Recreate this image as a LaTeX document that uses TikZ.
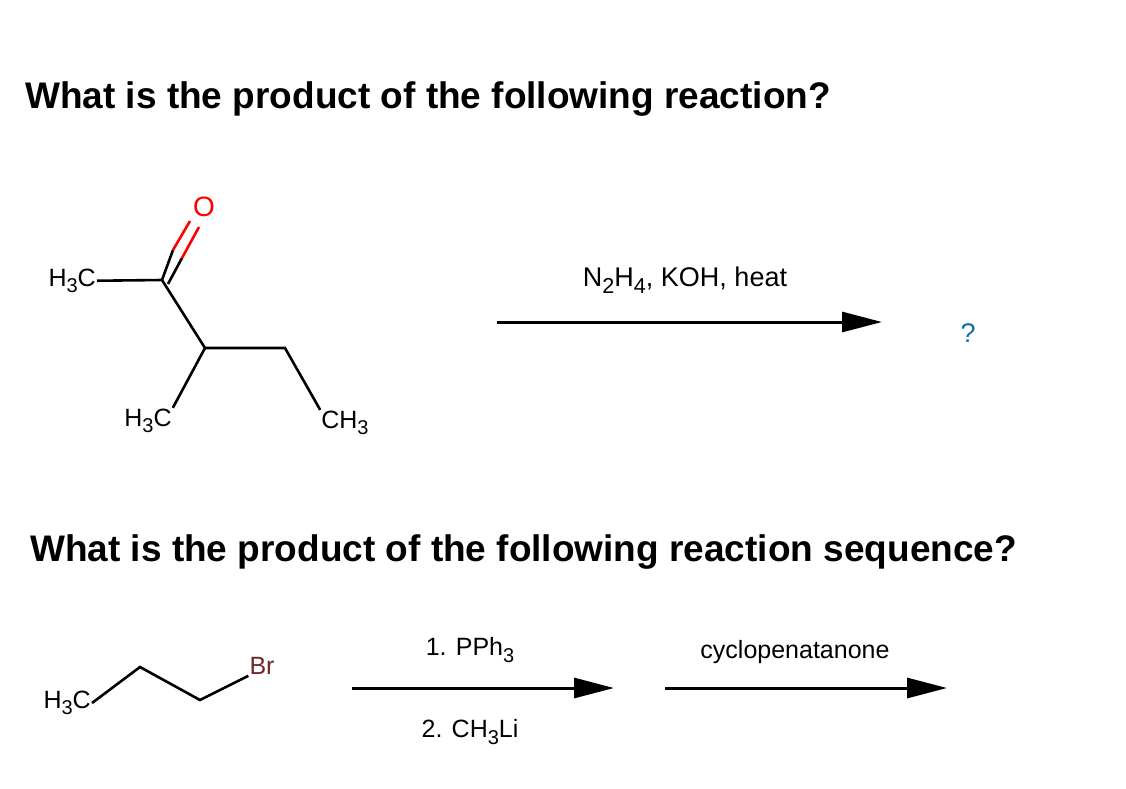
\documentclass[tikz,border=0pt]{standalone}
\usepackage{fontspec}
\setmainfont{Liberation Sans}
\usetikzlibrary{arrows.meta}
\newcommand{\chsub}[1]{\raisebox{-0.25em}{\scalebox{0.8}{#1}}}
\begin{document}
\begin{tikzpicture}[x=1pt,y=-1pt,
  bond/.style={line width=2.6pt},
  lbl/.style={inner sep=1pt,font=\fontsize{25}{28}\selectfont},
  rlbl/.style={inner sep=1pt,font=\fontsize{27}{30}\selectfont},
  title/.style={anchor=base west,inner sep=0pt,font=\fontsize{37}{40}\selectfont\bfseries},
  rx/.style={line width=3pt,-{Triangle[length=40pt,width=20pt]}}]
\useasboundingbox (0,0) rectangle (1126,788);
\definecolor{obr}{RGB}{110,40,40}
\definecolor{qb}{RGB}{20,110,170}
\node[title] (t1) at (25,108) {What is the product of the following reaction?};
\node[title] (t2) at (30,561) {What is the product of the following reaction sequence?};
% molecule 1
\node[lbl,anchor=east] (m1) at (97,281) {H\chsub{3}C};
\coordinate (c1) at (162,280);
\node[lbl,text=red,font=\fontsize{28}{30}\selectfont] (o) at (204,207) {O};
\coordinate (c2) at (205,348);
\coordinate (c3) at (285,348);
\node[lbl] (m2) at (148,421) {H\chsub{3}C};
\node[lbl] (m3) at (345,423) {CH\chsub{3}};
\draw[bond] (m1) -- (c1) -- (c2) -- (c3) -- (m3.north west);
\draw[bond] (c2) -- (m2.north east);
\draw[bond] (c1) -- (173,250); \draw[bond,red] (173,250) -- (190,221);
\draw[bond] (168,284) -- (182,258); \draw[bond,red] (182,258) -- (199,227);
% arrow 1
\coordinate (a1) at (497,322); \coordinate (a2) at (882,322);
\draw[rx] (a1) -- (a2);
\node[rlbl] (r1) at (685,280) {N\chsub{2}H\chsub{4}, KOH, heat};
\node[rlbl,text=qb] (q) at (968,333) {?};
% molecule 2
\node[lbl,anchor=east] (h) at (92,703) {H\chsub{3}C};
\coordinate (d1) at (140,667);
\coordinate (d2) at (200,700);
\node[lbl,text=obr] (br) at (262,666) {Br};
\draw[bond] (h.east) -- (d1) -- (d2) -- (br.south west);
\coordinate (b1) at (352,688); \coordinate (b2) at (614,688);
\draw[rx] (b1) -- (b2);
\node[lbl] (s1) at (470,650) {1. PPh\chsub{3}};
\node[lbl] (s2) at (470,732) {2. CH\chsub{3}Li};
\coordinate (e1) at (665,688); \coordinate (e2) at (947,688);
\draw[rx] (e1) -- (e2);
\node[lbl] (s3) at (795,652) {cyclopenatanone};
\end{tikzpicture}
\end{document}
